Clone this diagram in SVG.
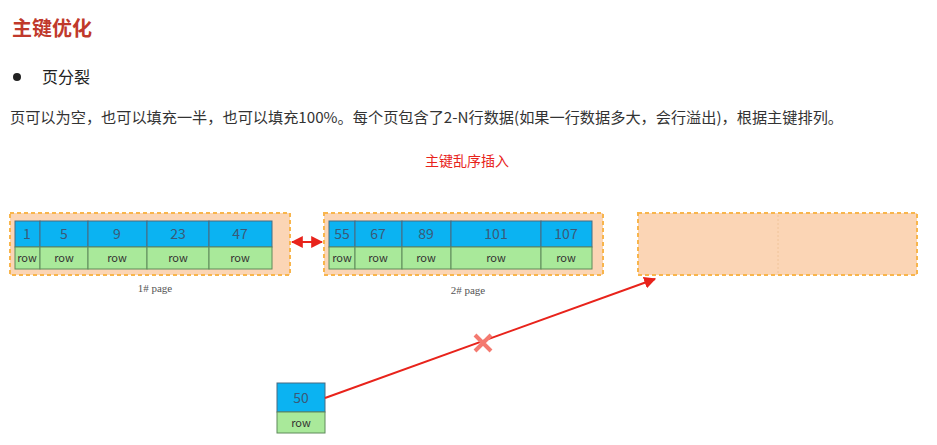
<svg xmlns="http://www.w3.org/2000/svg" width="937" height="445" viewBox="0 0 937 445">
<defs>
<marker id="ah" viewBox="0 0 10 10" refX="9" refY="5" markerWidth="6" markerHeight="6" orient="auto-start-reverse"><path d="M0,0L10,5L0,10z" fill="#e8231b"/></marker>
<style>
text{font-family:"Noto Sans CJK SC","Noto Sans",sans-serif}
.pg{fill:#fbd5b5;stroke:#f8b54c;stroke-width:2;stroke-dasharray:4 3}
.k{fill:#0bb3f2;stroke:#4a6a80;stroke-width:1}
.r{fill:#a9e99a;stroke:#5f8a5a;stroke-width:1}
.kt{font-size:14px;fill:#3a5a78;text-anchor:middle}
.rt{font-size:11px;fill:#333;text-anchor:middle}
.lb{font-size:11px;fill:#555;text-anchor:middle;font-family:"Liberation Serif",serif}
.ln{stroke:#e8231b;stroke-width:2;fill:none}
</style>
</defs>
<rect width="937" height="445" fill="#fff"/>
<text x="12" y="36" font-size="20" font-weight="bold" fill="#c0392b">主键优化</text>
<circle cx="17" cy="77" r="4" fill="#222"/>
<text x="42" y="83" font-size="16" fill="#222">页分裂</text>
<text x="10" y="123" font-size="15" fill="#333" textLength="833" lengthAdjust="spacingAndGlyphs">页可以为空，也可以填充一半，也可以填充100%。每个页包含了2-N行数据(如果一行数据多大，会行溢出)，根据主键排列。</text>
<text x="467" y="166" font-size="14" fill="#e8231b" text-anchor="middle">主键乱序插入</text>
<g id="page1">
<rect class="pg" x="10" y="213" width="280" height="62"/>
<rect class="k" x="15" y="221" width="25" height="26"/><rect class="k" x="40" y="221" width="48" height="26"/><rect class="k" x="88" y="221" width="59" height="26"/><rect class="k" x="147" y="221" width="62" height="26"/><rect class="k" x="209" y="221" width="63" height="26"/>
<rect class="r" x="15" y="247" width="25" height="22"/><rect class="r" x="40" y="247" width="48" height="22"/><rect class="r" x="88" y="247" width="59" height="22"/><rect class="r" x="147" y="247" width="62" height="22"/><rect class="r" x="209" y="247" width="63" height="22"/>
<text class="kt" x="27" y="239">1</text><text class="kt" x="64" y="239">5</text><text class="kt" x="117" y="239">9</text><text class="kt" x="178" y="239">23</text><text class="kt" x="240" y="239">47</text>
<text class="rt" x="27" y="262">row</text><text class="rt" x="64" y="262">row</text><text class="rt" x="117" y="262">row</text><text class="rt" x="178" y="262">row</text><text class="rt" x="240" y="262">row</text>
<text class="lb" x="155" y="292">1#  page</text>
</g>
<g id="page2">
<rect class="pg" x="324" y="213" width="279" height="62"/>
<rect class="k" x="329" y="221" width="26" height="26"/><rect class="k" x="355" y="221" width="47" height="26"/><rect class="k" x="402" y="221" width="49" height="26"/><rect class="k" x="451" y="221" width="90" height="26"/><rect class="k" x="541" y="221" width="51" height="26"/>
<rect class="r" x="329" y="247" width="26" height="22"/><rect class="r" x="355" y="247" width="47" height="22"/><rect class="r" x="402" y="247" width="49" height="22"/><rect class="r" x="451" y="247" width="90" height="22"/><rect class="r" x="541" y="247" width="51" height="22"/>
<text class="kt" x="342" y="239">55</text><text class="kt" x="378" y="239">67</text><text class="kt" x="426" y="239">89</text><text class="kt" x="496" y="239">101</text><text class="kt" x="566" y="239">107</text>
<text class="rt" x="342" y="262">row</text><text class="rt" x="378" y="262">row</text><text class="rt" x="426" y="262">row</text><text class="rt" x="496" y="262">row</text><text class="rt" x="566" y="262">row</text>
<text class="lb" x="468" y="294">2#  page</text>
</g>
<g id="page3">
<rect class="pg" x="638" y="213" width="279" height="62"/>
<line x1="778" y1="215" x2="778" y2="273" stroke="#f0c49a" stroke-width="1" stroke-dasharray="2 2"/>
</g>
<g id="row50">
<rect class="k" x="277" y="383" width="48" height="29"/>
<rect class="r" x="277" y="412" width="48" height="21"/>
<text class="kt" x="301" y="403">50</text>
<text class="rt" x="301" y="427">row</text>
</g>
<g id="connectors">
<line class="ln" x1="292" y1="242" x2="322" y2="242" marker-start="url(#ah)" marker-end="url(#ah)"/>
<line class="ln" x1="325" y1="398" x2="655" y2="279" marker-end="url(#ah)"/>
<path d="M475,335L491,351M491,335L475,351" stroke="#f47a70" stroke-width="4"/>
</g>
</svg>
